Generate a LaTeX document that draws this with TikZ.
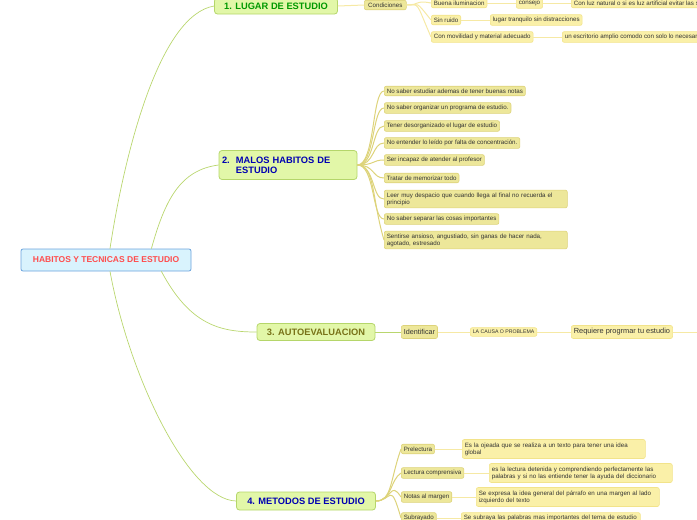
\documentclass[tikz,border=0pt]{standalone}
\usepackage{fontspec}
\setmainfont{Liberation Sans}
\definecolor{mainline}{HTML}{B9D66E}
\definecolor{subline}{HTML}{F6E9A4}
\definecolor{l1fill}{HTML}{E2F7A8}
\definecolor{l1draw}{HTML}{B5D66A}
\definecolor{itfill}{HTML}{EDE79A}
\definecolor{itdraw}{HTML}{DDD37A}
\definecolor{lvfill}{HTML}{FAF0A8}
\definecolor{lvdraw}{HTML}{F2E38A}
\begin{document}
\begin{tikzpicture}[x=1pt,y=-1pt,
 root/.style={draw=cyan!60!blue!60,fill=cyan!15,rounded corners=2pt,line width=0.8pt,minimum width=170pt,minimum height=22pt,font=\fontsize{8.5}{9}\selectfont\bfseries,text=red!70!white},
 main/.style={draw=l1draw,fill=l1fill,rounded corners=3pt,line width=0.8pt,font=\fontsize{9.3}{10}\selectfont\bfseries,inner sep=3pt},
 item/.style={draw=itdraw,fill=itfill,rounded corners=2pt,line width=0.6pt,font=\fontsize{6.2}{7}\selectfont,text=black!80,inner sep=2.5pt,align=left,anchor=west},
 leaf/.style={draw=lvdraw,fill=lvfill,rounded corners=2pt,line width=0.6pt,font=\fontsize{6.2}{7}\selectfont,text=black!80,inner sep=2.5pt,align=left,anchor=west},
 mline/.style={draw=mainline,line width=0.7pt},
 sline/.style={draw=subline,line width=1pt}]
\useasboundingbox (0,0) rectangle (697,520);
% root
\node[root] (r) at (106,260) {HABITOS Y TECNICAS DE ESTUDIO};
% main branches
\node[main,text=green!60!black,minimum width=123pt,minimum height=16pt] (m1) at (276,6) {1. LUGAR DE ESTUDIO};
\node[main,text=blue!70!black,text width=132pt,minimum height=29pt,align=left] (m2) at (288,165) {2.\ \ MALOS HABITOS DE\\\phantom{2.\ \ }ESTUDIO};
\node[main,text=olive!80!black,minimum width=118pt,minimum height=17pt] (m3) at (316,332) {3. AUTOEVALUACION};
\node[main,text=blue!70!black,minimum width=139pt,minimum height=18pt] (m4) at (306,501) {4. METODOS DE ESTUDIO};
\draw[mline] (r.north) ++(4,0) .. controls (125,150) and (160,15) .. (m1.west);
\draw[mline] (r.north east) ++(-40,0) .. controls (165,200) and (180,170) .. (m2.west);
\draw[mline] (r.south east) ++(-30,0) .. controls (190,325) and (220,332) .. (m3.west);
\draw[mline] (r.south) ++(4,0) .. controls (130,380) and (190,500) .. (m4.west);
% branch 1
\node[item,minimum width=42pt] (c) at (364,5) {Condiciones};
\draw[sline] (m1.east) -- (c.west);
\node[leaf] (b1) at (431,3) {Buena iluminacion};
\node[leaf] (b1a) at (516,3) {consejo};
\node[leaf] (b1b) at (571,3) {Con luz natural o si es luz artificial evitar las sombras};
\node[leaf] (b2) at (431,20) {Sin ruido};
\node[leaf] (b2a) at (490,20) {lugar tranquilo sin distracciones};
\node[leaf] (b3) at (431,37) {Con movilidad y material adecuado};
\node[leaf] (b3a) at (562,37) {un escritorio amplio comodo con solo lo necesario};
\foreach \t in {b1,b2,b3} \draw[sline] (c.east) .. controls (420,5) and (415,0) .. (\t.west);
\draw[sline] (b1.east) -- (b1a.west); \draw[sline] (b1a.east) -- (b1b.west);
\draw[sline] (b2.east) -- (b2a.west); \draw[sline] (b3.east) -- (b3a.west);
% branch 2
\foreach \n/\y/\t in {a/91/No saber estudiar ademas de tener buenas notas,
 b/108/No saber organizar un programa de estudio.,
 c/126/Tener desorganizado el lugar de estudio,
 d/143/No entender lo leído por falta de concentración.,
 e/160/Ser incapaz de atender al profesor,
 f/178/Tratar de memorizar todo,
 h/219/No saber separar las cosas importantes}
 {\node[item] (p\n) at (384,\y) {\t};
  \draw[sline,draw=itdraw] (m2.east) .. controls (375,165) and (372,\y) .. (p\n.west);}
\node[item,text width=178pt] (pg) at (384,199) {Leer muy despacio que cuando llega al final no recuerda el\\principio};
\node[item,text width=178pt] (pi) at (384,240) {Sentirse ansioso, angustiado, sin ganas de hacer nada,\\agotado, estresado};
\foreach \n in {pg,pi} \draw[sline,draw=itdraw] (m2.east) .. controls (375,165) and (372,200) .. (\n.west);
% branch 3
\node[item,font=\fontsize{7.2}{8}\selectfont,minimum height=13pt] (i3) at (401,332) {Identificar};
\node[leaf,font=\fontsize{5.2}{6}\selectfont] (i3a) at (470,332) {LA CAUSA O PROBLEMA};
\node[leaf,font=\fontsize{7.4}{8}\selectfont,minimum height=13pt] (i3b) at (571,332) {Requiere progrmar tu estudio};
\coordinate (i3c) at (697,332);
\draw[sline,draw=mainline] (m3.east) -- (i3.west);
\draw[sline] (i3.east) -- (i3a.west); \draw[sline] (i3a.east) -- (i3b.west); \draw[sline] (i3b.east) -- (i3c);
% branch 4
\node[item] (q1) at (401,449) {Prelectura};
\node[leaf,text width=178pt,minimum height=19pt] (q1a) at (462,449) {Es la ojeada que se realiza a un texto para tener una idea\\global};
\node[item] (q2) at (401,473) {Lectura comprensiva};
\node[leaf,text width=178pt,minimum height=19pt] (q2a) at (489,473) {es la lectura detenida y comprendiendo perfectamente las\\palabras y si no las entiende tener la ayuda del diccionario};
\node[item] (q3) at (401,497) {Notas al margen};
\node[leaf,text width=178pt,minimum height=19pt] (q3a) at (476,497) {Se expresa la idea general del párrafo en una  margen al lado\\izquierdo del texto};
\node[item] (q4) at (401,518) {Subrayado};
\node[leaf,text width=174pt] (q4a) at (461,518) {Se subraya las palabras mas importantes del tema de estudio};
\foreach \n in {1,2,3,4} {\draw[sline,draw=itdraw] (m4.east) .. controls (392,501) and (390,480) .. (q\n.west);
 \draw[sline] (q\n.east) -- (q\n a.west);}
\end{tikzpicture}
\end{document}
